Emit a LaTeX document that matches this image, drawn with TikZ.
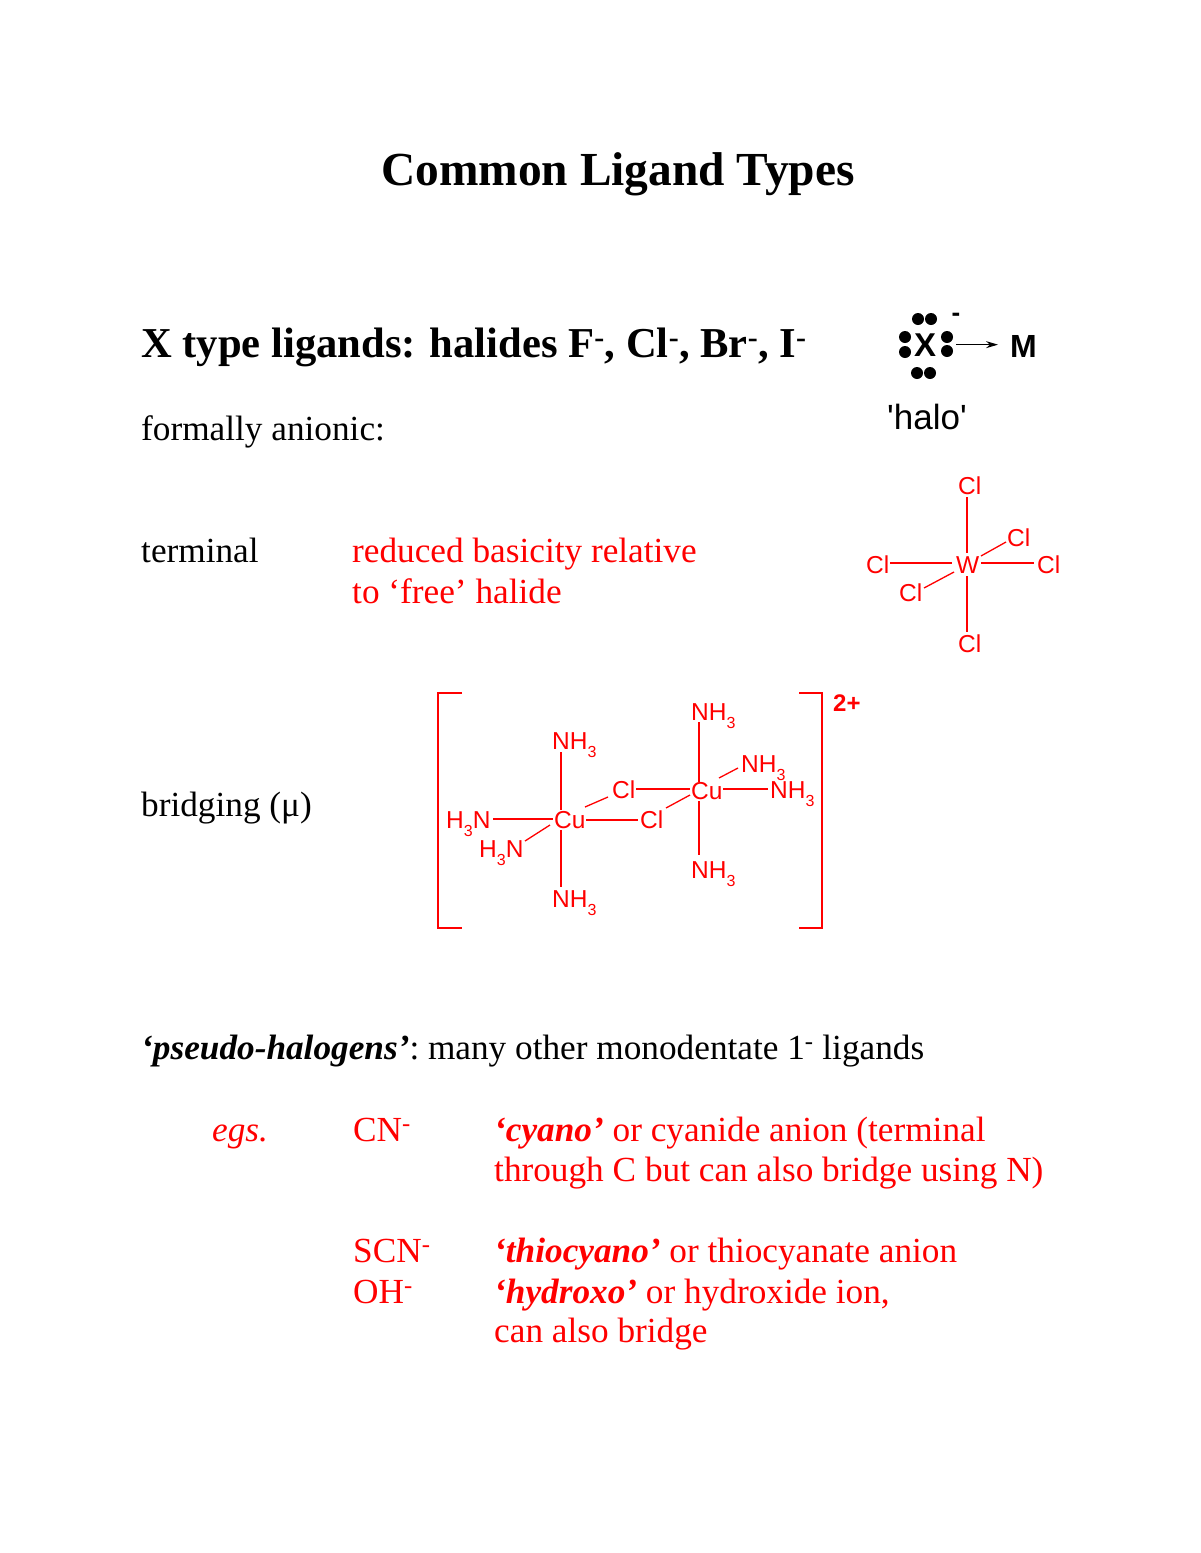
\documentclass[tikz,border=0pt]{standalone}
\usepackage{fontspec}
\setmainfont{Liberation Serif}
\setsansfont{Liberation Sans}
\usetikzlibrary{arrows.meta, positioning}
\newcommand{\ammine}{NH\raisebox{-8pt}{\fontsize{16}{16}\selectfont 3}}
\newcommand{\amminer}{H\raisebox{-8pt}{\fontsize{16}{16}\selectfont 3}N}
\newcommand{\anion}{\textsuperscript{-}}
\tikzset{
    txt/.style={anchor=base west, inner sep=0pt, font=\fontsize{35.25}{40}\selectfont},
    redtxt/.style={txt, text=red},
    head/.style={anchor=base west, inner sep=0pt, font=\bfseries\fontsize{42.6}{48}\selectfont},
    atom/.style={anchor=base west, inner sep=0pt, text=red, font=\sffamily\fontsize{24.5}{26}\selectfont},
    bond/.style={red, line width=1.3pt},
    lone/.style={circle, fill=black, inner sep=0pt, minimum size=12pt}
}
\begin{document}
\begin{tikzpicture}[x=1pt, y=-1pt]
    \useasboundingbox (0,0) rectangle (1200,1553);

    \node (title) [head, anchor=base, font=\bfseries\fontsize{47.4}{52}\selectfont] at (618,185) {Common Ligand Types};
    \node (xtype) [head] at (141,357) {X type ligands: halides F\anion, Cl\anion, Br\anion, I\anion};
    \node (formal) [txt] at (141,440) {formally anionic:};
    \node (termi) [txt] at (141,562) {terminal};
    \node (basic1) [redtxt] at (352,562) {reduced basicity relative};
    \node (basic2) [redtxt] at (352,603) {to ‘free’ halide};
    \node (bridg) [txt] at (141,816) {bridging (μ)};
    \node (pseudo) [txt] at (141,1059) {\textbf{\textit{‘pseudo-halogens’}}:\hspace{-3pt} many other monodentate 1\anion{} ligands};

    \node (egs) [redtxt] at (212,1141) {\textit{egs.}};
    \node (cn) [redtxt] at (353,1141) {CN\anion};
    \node (cyano1) [redtxt] at (494,1141) {\textbf{\textit{‘cyano’}} or cyanide anion (terminal};
    \node (cyano2) [redtxt] at (494,1181) {through C but can also bridge using N)};
    \node (scn) [redtxt] at (353,1262) {SCN\anion};
    \node (thio) [redtxt] at (494,1262) {\textbf{\textit{‘thiocyano’}} or thiocyanate anion};
    \node (oh) [redtxt] at (353,1303) {OH\anion};
    \node (hydro1) [redtxt] at (494,1303) {\textbf{\textit{‘hydroxo’}} or hydroxide ion,};
    \node (hydro2) [redtxt] at (494,1342) {can also bridge};

    % halide to metal
    \node (xatom) [anchor=base west, inner sep=0pt, font=\sffamily\bfseries\fontsize{33}{35}\selectfont] at (914,356) {X};
    \node (metal) [anchor=base west, inner sep=0pt, font=\sffamily\bfseries\fontsize{32}{34}\selectfont] at (1010,357) {M};
    \node (xminus) [anchor=base, inner sep=0pt, font=\sffamily\bfseries\fontsize{26}{28}\selectfont] at (956,321) {-};
    \node (halo) [anchor=base west, inner sep=0pt, font=\sffamily\fontsize{35}{37}\selectfont] at (887,429) {\textquotesingle halo\textquotesingle};
    \foreach \nm/\px/\py in {pa/918/319, pb/931/319, pc/947/337, pd/947/351, pe/905/337, pf/905/352, pg/917/373, ph/930/373}
        \node (\nm) [lone] at (\px,\py) {};
    \draw [-{Stealth[length=12pt, width=7pt, inset=4pt]}, line width=1pt, shorten <=20pt, shorten >=12pt] (xatom.east) -- (xatom.east -| metal.west);

    % terminal complex
    \node (wc) [atom] at (956,573) {W};
    \node (clt) [atom] at (958,494) {Cl};
    \node (clb) [atom] at (958,652) {Cl};
    \node (cll) [atom] at (866,573) {Cl};
    \node (clr) [atom] at (1037,573) {Cl};
    \node (clk) [atom] at (1007,546) {Cl};
    \node (clf) [atom] at (899,601) {Cl};
    \draw [bond] ([xshift=9pt,yshift=-3pt]clt.base west) -- ([xshift=11pt,yshift=20pt]wc.base west);
    \draw [bond] ([xshift=11pt,yshift=-3pt]wc.base west) -- ([xshift=9pt,yshift=20pt]clb.base west);
    \draw [bond] ([xshift=24pt,yshift=10pt]cll.base west) -- ([xshift=-4pt,yshift=10pt]wc.base west);
    \draw [bond] ([xshift=25pt,yshift=10pt]wc.base west) -- ([xshift=-3pt,yshift=10pt]clr.base west);
    \draw [bond] ([xshift=25pt,yshift=17pt]wc.base west) -- ([xshift=-1pt,yshift=4pt]clk.base west);
    \draw [bond] ([xshift=-2pt,yshift=1pt]wc.base west) -- ([xshift=25pt,yshift=13pt]clf.base west);

    % bridged dimer
    \node (cua) [atom] at (554,828) {Cu};
    \node (cub) [atom] at (691,799) {Cu};
    \node (cla) [atom] at (612,798) {Cl};
    \node (clc) [atom] at (640,828) {Cl};
    \node (nat) [atom] at (552,749) {\ammine};
    \node (nab) [atom] at (552,907) {\ammine};
    \node (nal) [atom] at (446,828) {\amminer};
    \node (naf) [atom] at (479,857) {\amminer};
    \node (nbt) [atom] at (691,720) {\ammine};
    \node (nbb) [atom] at (691,878) {\ammine};
    \node (nbk) [atom] at (741,772) {\ammine};
    \node (nbr) [atom] at (770,798) {\ammine};
    \node (chg) [atom, font=\sffamily\bfseries\fontsize{24}{26}\selectfont] at (833,711) {2+};

    \draw [bond] ([xshift=9pt,yshift=-3pt]nat.base west) -- ([xshift=7pt,yshift=18pt]cua.base west);
    \draw [bond] ([xshift=7pt,yshift=-2pt]cua.base west) -- ([xshift=9pt,yshift=20pt]nab.base west);
    \draw [bond] ([xshift=47pt,yshift=9pt]nal.base west) -- ([xshift=-1pt,yshift=9pt]cua.base west);
    \draw [bond] ([xshift=46pt,yshift=16pt]naf.base west) -- ([xshift=-4pt,yshift=3pt]cua.base west);
    \draw [bond] ([xshift=31pt,yshift=21pt]cua.base west) -- ([xshift=-4pt,yshift=1pt]cla.base west);
    \draw [bond] ([xshift=32pt,yshift=8pt]cua.base west) -- ([xshift=-2pt,yshift=8pt]clc.base west);
    \draw [bond] ([xshift=24pt,yshift=9pt]cla.base west) -- ([xshift=-1pt,yshift=10pt]cub.base west);
    \draw [bond] ([xshift=26pt,yshift=20pt]clc.base west) -- ([xshift=-1pt,yshift=4pt]cub.base west);
    \draw [bond] ([xshift=8pt,yshift=-2pt]nbt.base west) -- ([xshift=8pt,yshift=17pt]cub.base west);
    \draw [bond] ([xshift=8pt,yshift=-2pt]cub.base west) -- ([xshift=8pt,yshift=23pt]nbb.base west);
    \draw [bond] ([xshift=28pt,yshift=21pt]cub.base west) -- ([xshift=-3pt,yshift=4pt]nbk.base west);
    \draw [bond] ([xshift=32pt,yshift=10pt]cub.base west) -- ([xshift=-2pt,yshift=9pt]nbr.base west);

    \draw [bond] (462,693) -- (438,693) -- (438,928) -- (462,928);
    \draw [bond] (799,693) -- (822,693) -- (822,928) -- (799,928);
\end{tikzpicture}
\end{document}
